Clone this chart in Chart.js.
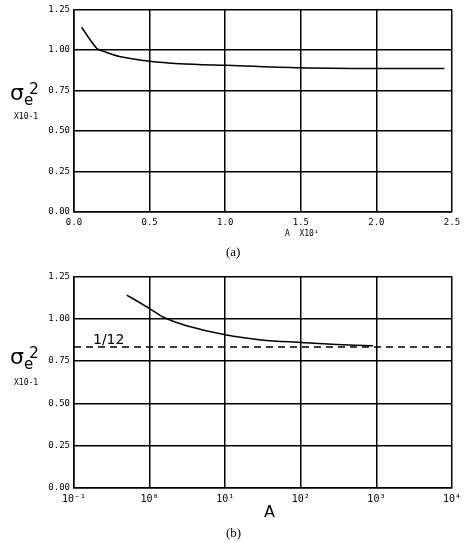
<!DOCTYPE html>
<html><head><meta charset="utf-8">
<script src="https://cdn.jsdelivr.net/npm/chart.js@4"></script>
<style>
body{margin:0;background:#fff;width:474px;height:543px;position:relative;overflow:hidden;font-family:"DejaVu Sans Mono",monospace}
.c{position:absolute;left:0;width:474px}
.t{position:absolute;color:#000}
.s{font-family:"DejaVu Sans",sans-serif;font-size:22px}
.s sup{font-size:15px;vertical-align:6px;margin-left:-4px}
.s sub{font-size:15px}
.m{font-size:8px}
.cap{font-family:"Liberation Serif",serif;font-size:13px}
</style></head><body>
<div class="c" style="top:0;height:240px"><canvas id="ca"></canvas></div>
<div class="c" style="top:267px;height:249px"><canvas id="cb"></canvas></div>
<div class="t s" style="left:10px;top:80px">σ<sub>e</sub><sup>2</sup></div>
<div class="t m" style="left:14px;top:112px">X10-1</div>
<div class="t m" style="left:285px;top:229px">A &nbsp;X10¹</div>
<div class="t cap" style="left:226px;top:244px">(a)</div>
<div class="t s" style="left:10px;top:344px">σ<sub>e</sub><sup>2</sup></div>
<div class="t m" style="left:14px;top:378px">X10-1</div>
<div class="t" style="left:93px;top:331px;font-family:'DejaVu Sans';font-size:14px">1/12</div>
<div class="t" style="left:264px;top:502px;font-family:'DejaVu Sans';font-size:16px">A</div>
<div class="t cap" style="left:226px;top:525px">(b)</div>
<script>
// panel (a), A in units of 10
let aX = [0.05, 0.15, 0.2, 0.3, 0.5, 0.7, 1.0, 1.5, 2.0, 2.45];
let aY = [1.14, 1.01, 0.99, 0.96, 0.93, 0.915, 0.905, 0.89, 0.885, 0.885];
// panel (b), log A
let bX = [0.5, 1, 1.5, 3, 10, 30, 100, 300, 900];
let bY = [1.14, 1.06, 1.01, 0.96, 0.905, 0.875, 0.86, 0.848, 0.84];
let dashX = [0.1, 10000];
let dashY = [0.833, 0.833];
let yTicks = [0, 0.25, 0.5, 0.75, 1.0, 1.25];
let aTicks = [0, 0.5, 1.0, 1.5, 2.0, 2.5];
let bTicks = [0.1, 1, 10, 100, 1000, 10000];
let bLabels = ["10⁻¹", "10⁰", "10¹", "10²", "10³", "10⁴"];

Chart.defaults.font.family = "DejaVu Sans Mono";
Chart.defaults.font.size = 9;
Chart.defaults.color = "#000";

function pts(xs, ys) { return xs.map((x, i) => ({x: x, y: ys[i]})); }

let grid = {color: "#000", lineWidth: 1.5, drawTicks: false};
function yAxis() {
  return {
    min: 0, max: 1.25, grid: grid, border: {color: "#000", width: 1.5},
    afterBuildTicks: s => { s.ticks = yTicks.map(v => ({value: v})); },
    ticks: {padding: 4, callback: v => v.toFixed(2)},
    afterFit: s => { s.width = 74; }
  };
}
let common = {
  responsive: true, maintainAspectRatio: false, animation: false,
  layout: {padding: {top: 9, right: 22, left: 0, bottom: 0}},
  plugins: {legend: {display: false}, tooltip: {enabled: false}},
  elements: {point: {radius: 0}, line: {borderColor: "#000", borderWidth: 1.5, tension: 0.3}}
};

new Chart("ca", {
  type: "scatter",
  data: {datasets: [{data: pts(aX, aY), showLine: true}]},
  options: Object.assign({}, common, {
    scales: {
      x: {
        min: 0, max: 2.5, grid: grid, border: {color: "#000", width: 1.5},
        afterBuildTicks: s => { s.ticks = aTicks.map(v => ({value: v})); },
        ticks: {padding: 5, callback: v => v.toFixed(1)},
        afterFit: s => { s.height = 28; }
      },
      y: yAxis()
    }
  })
});

new Chart("cb", {
  type: "scatter",
  data: {datasets: [
    {data: pts(bX, bY), showLine: true},
    {data: pts(dashX, dashY), showLine: true, borderDash: [7, 5], tension: 0}
  ]},
  options: Object.assign({}, common, {
    scales: {
      x: {
        type: "logarithmic", min: 0.1, max: 10000, grid: grid, border: {color: "#000", width: 1.5},
        afterBuildTicks: s => { s.ticks = bTicks.map(v => ({value: v})); },
        ticks: {padding: 5, font: {size: 10}, callback: (v, i) => bLabels[i]},
        afterFit: s => { s.height = 28; }
      },
      y: yAxis()
    }
  })
});
</script>
</body></html>
